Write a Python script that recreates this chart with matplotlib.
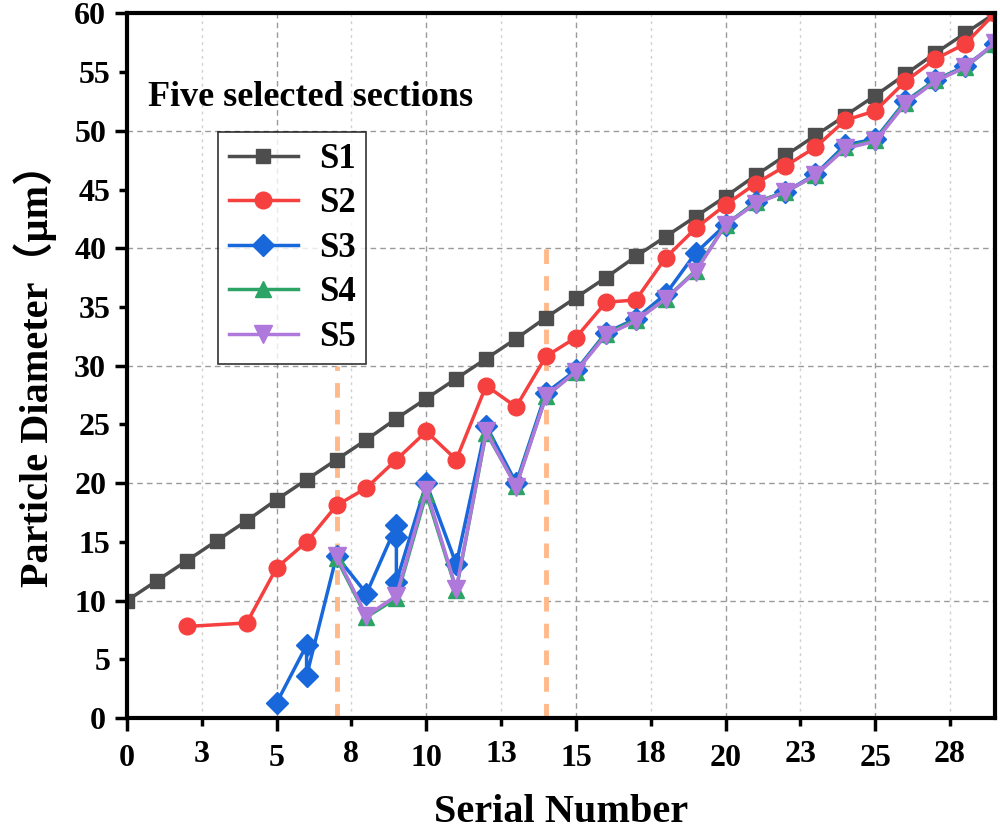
import numpy as np
import matplotlib
matplotlib.use("Agg")
import matplotlib.pyplot as plt
from matplotlib.ticker import MultipleLocator, FuncFormatter

plt.rcParams['font.family'] = ['Liberation Serif', 'Noto Sans CJK SC']
plt.rcParams['font.weight'] = 'bold'

# data
x_s1 = list(range(0, 30))
s1 = [10.0, 11.7, 13.4, 15.1, 16.8, 18.6, 20.3, 22.0, 23.7, 25.5,
      27.2, 28.9, 30.6, 32.3, 34.1, 35.8, 37.5, 39.3, 41.0, 42.7,
      44.4, 46.2, 47.9, 49.6, 51.3, 53.0, 54.8, 56.6, 58.3, 60.0]

x_s2 = [2, 4] + list(range(5, 30))
s2 = [7.8, 8.1, 12.8, 15.0, 18.1, 19.6, 22.0, 24.4, 22.0, 28.3,
      26.5, 30.8, 32.4, 35.4, 35.6, 39.2, 41.7, 43.7, 45.5, 47.0,
      48.6, 50.9, 51.7, 54.2, 56.1, 57.4, 60.0]

x_s3 = [5, 6, 6, 7, 8, 9, 9, 9] + list(range(10, 30))
s3 = [1.3, 6.2, 3.6, 13.8, 10.6, 16.4, 15.4, 11.6, 20.0, 13.1,
      24.9, 20.0, 27.7, 29.6, 32.8, 34.0, 36.1, 39.6, 42.0, 43.9,
      44.8, 46.3, 48.8, 49.3, 52.5, 54.3, 55.5, 57.4]

x_s45 = list(range(7, 30))
s4 = [13.6, 8.6, 10.2, 19.1, 10.9, 24.3, 19.8, 27.4, 29.5, 32.7,
      33.9, 35.7, 38.1, 42.0, 43.9, 44.8, 46.2, 48.6, 49.2, 52.4,
      54.3, 55.4, 57.4]
s5 = [13.8, 8.7, 10.4, 19.4, 11.0, 24.4, 19.7, 27.4, 29.5, 32.6,
      33.8, 35.7, 38.0, 42.0, 43.8, 44.8, 46.2, 48.5, 49.1, 52.3,
      54.2, 55.4, 57.5]

# section markers (x position, top)
sec_x = [7, 14]
sec_top = [30, 40]

fig = plt.figure(figsize=(10, 8.34), dpi=100)
ax = fig.add_axes([0.127, 0.139, 0.868, 0.845])

ax.grid(which='major', axis='both', linestyle=(0, (4, 3)), color='#9a9a9a', linewidth=1.0)
ax.grid(which='minor', axis='x', linestyle=(0, (2, 3)), color='#d0d0d0', linewidth=1.0)
ax.set_axisbelow(True)

for xv, top in zip(sec_x, sec_top):
    ax.plot([xv, xv], [0, top], linestyle=(0, (3, 2.5)), color='#FFB98A', linewidth=3.5, zorder=1.5)

ax.plot(x_s1, s1, color='#4D4D4D', marker='s', markersize=10, linewidth=2.5, label='S1')
ax.plot(x_s2, s2, color='#F6403F', marker='o', markersize=12, linewidth=2.5, label='S2')
ax.plot(x_s3, s3, color='#1868DB', marker='D', markersize=11, linewidth=2.5, label='S3')
ax.plot(x_s45, s4, color='#2BA466', marker='^', markersize=11, linewidth=2.5, label='S4')
ax.plot(x_s45, s5, color='#AF78DB', marker='v', markersize=13, linewidth=2.5, label='S5')

ax.set_xlim(0, 29)
ax.set_ylim(0, 60)
ax.xaxis.set_major_locator(MultipleLocator(5))
ax.xaxis.set_minor_locator(MultipleLocator(2.5))
ax.yaxis.set_major_locator(MultipleLocator(10))
ax.yaxis.set_minor_locator(MultipleLocator(5))
fmt = FuncFormatter(lambda v, p: str(int(v + 0.5)))
ax.xaxis.set_major_formatter(fmt)
ax.xaxis.set_minor_formatter(fmt)
ax.yaxis.set_major_formatter(fmt)
ax.yaxis.set_minor_formatter(fmt)

ax.tick_params(which='both', direction='out', width=2.5, labelsize=23)
ax.tick_params(axis='x', which='both', pad=10)
ax.tick_params(axis='y', which='both', pad=6)
ax.tick_params(which='major', length=9)
ax.tick_params(which='minor', length=6)
for lab in ax.get_xticklabels(which='both') + ax.get_yticklabels(which='both'):
    lab.set_fontweight('bold')
for sp in ax.spines.values():
    sp.set_linewidth(3)

ax.set_xlabel('Serial Number', fontsize=29, fontweight='bold', labelpad=15)
ax.set_ylabel('Particle Diameter（μm）', fontsize=29, fontweight='bold', labelpad=12)

ax.text(0.024, 0.881, 'Five selected sections', transform=ax.transAxes,
        fontsize=26, fontweight='bold', va='center', ha='left')

leg = ax.legend(loc='upper left', bbox_to_anchor=(0.105, 0.831),
                frameon=True, fancybox=False, edgecolor='black',
                handlelength=2.0, handletextpad=0.6, borderpad=0.3,
                labelspacing=0.33, borderaxespad=0,
                prop={'weight': 'bold', 'size': 25})
leg.get_frame().set_linewidth(1.2)

fig.savefig('out.png', dpi=100)
